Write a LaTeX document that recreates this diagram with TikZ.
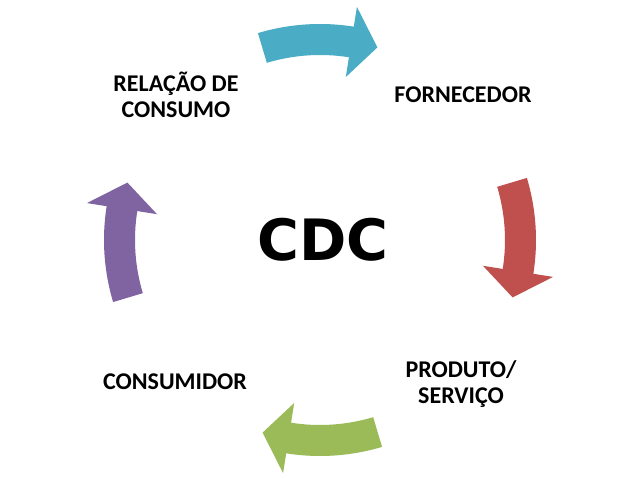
\documentclass[tikz,border=0pt]{standalone}
\usepackage{fontspec}
\setmainfont{Carlito}
\newfontfamily\cdcfont{DejaVu Sans}
\definecolor{cteal}{HTML}{4BACC6}
\definecolor{cred}{HTML}{C0504D}
\definecolor{cgreen}{HTML}{9BBB59}
\definecolor{cpurple}{HTML}{8064A2}
\tikzset{
  lbl/.style={font=\fontsize{24}{26}\selectfont\bfseries, align=center, text=black, inner sep=0pt},
}
% circular arrow centred at angle #1, clockwise
\newcommand{\cyclearrow}[2]{%
  \fill[#2] ({#1+16.7}:216pt) arc[start angle={#1+16.7}, end angle={#1-9}, radius=216pt]
    -- ({#1-9}:236pt) -- ({#1-16.6}:201pt) -- ({#1-9}:165pt)
    -- ({#1-9}:185pt) arc[start angle={#1-9}, end angle={#1+16.7}, radius=185pt] -- cycle;}
\begin{document}
\begin{tikzpicture}
\useasboundingbox (0,0) rectangle (638pt,479pt);
\fill[white] (0,0) rectangle (638pt,479pt);
\begin{scope}[shift={(320pt,239pt)}]
  \cyclearrow{90}{cteal}
  \cyclearrow{0}{cred}
  \cyclearrow{-90}{cgreen}
  \cyclearrow{180}{cpurple}
\end{scope}
\node[lbl] (rel) at (176pt,384pt) {RELAÇÃO DE\\CONSUMO};
\node[lbl] (forn) at (463pt,384pt) {FORNECEDOR};
\node[lbl] (prod) at (461pt,95pt) {PRODUTO/\\SERVIÇO};
\node[lbl] (cons) at (175pt,97pt) {CONSUMIDOR};
\node[font=\cdcfont\fontsize{57}{60}\selectfont\bfseries, inner sep=0pt] (cdc) at (323pt,239.5pt) {CDC};
\end{tikzpicture}
\end{document}
